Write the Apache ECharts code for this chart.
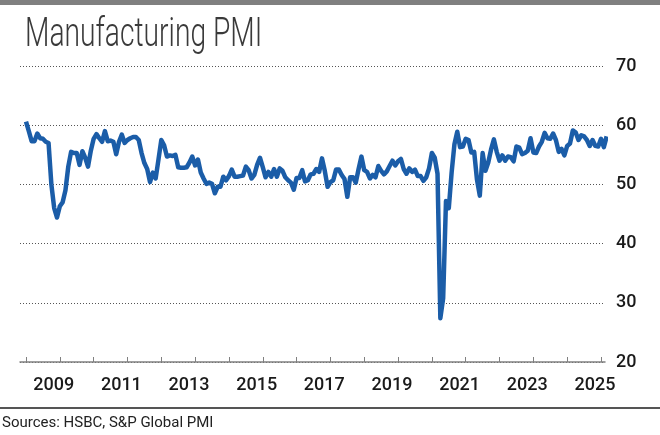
<html>
<head>
<meta charset="utf-8">
<script src="https://cdn.jsdelivr.net/npm/echarts@6/dist/echarts.min.js"></script>
<style>
  body { margin: 0; background: #fff; }
  #chart { width: 660px; height: 435px; }
</style>
</head>
<body>
<div id="chart"></div>
<script>
// monthly PMI, Jan 2008 .. Mar 2025
var firstYear = 2008;
var pmi2008 = [60.6, 59.0, 57.3, 57.3, 58.6, 57.8, 57.7, 57.2, 57.0, 50.0, 46.0, 44.4];
var pmi2009 = [46.3, 47.0, 49.0, 53.0, 55.5, 55.3, 55.3, 53.3, 55.6, 54.5, 53.0, 55.7];
var pmi2010 = [57.7, 58.5, 57.8, 57.2, 59.0, 57.3, 57.4, 57.2, 55.1, 57.2, 58.4, 57.0];
var pmi2011 = [57.5, 57.8, 58.0, 58.0, 57.5, 55.3, 53.6, 52.6, 50.4, 52.0, 51.0, 54.2];
var pmi2012 = [57.5, 56.6, 54.7, 54.9, 54.8, 55.0, 52.9, 52.8, 52.8, 52.9, 53.7, 54.7];
var pmi2013 = [53.2, 54.2, 52.0, 51.0, 50.1, 50.3, 50.1, 48.5, 49.6, 49.6, 51.3, 50.7];
var pmi2014 = [51.4, 52.5, 51.3, 51.3, 51.4, 51.5, 53.0, 52.4, 51.0, 51.6, 53.3, 54.5];
var pmi2015 = [52.9, 51.2, 52.1, 51.3, 52.6, 51.3, 52.7, 52.3, 51.2, 50.7, 50.3, 49.1];
var pmi2016 = [51.1, 51.1, 52.4, 50.5, 50.7, 51.7, 51.8, 52.6, 52.1, 54.4, 52.3, 49.6];
var pmi2017 = [50.4, 50.7, 52.5, 52.5, 51.6, 50.9, 47.9, 51.2, 51.2, 50.3, 52.6, 54.7];
var pmi2018 = [52.4, 52.1, 51.0, 51.6, 51.2, 53.1, 52.3, 51.7, 52.2, 53.1, 54.0, 53.2];
var pmi2019 = [53.9, 54.3, 52.6, 51.8, 52.7, 52.1, 52.5, 51.4, 51.4, 50.6, 51.2, 52.7];
var pmi2020 = [55.3, 54.5, 51.8, 27.4, 30.8, 47.2, 46.0, 52.0, 56.8, 58.9, 56.3, 56.4];
var pmi2021 = [57.7, 57.5, 55.4, 55.5, 50.8, 48.1, 55.3, 52.3, 53.7, 55.9, 57.6, 55.5];
var pmi2022 = [54.0, 54.9, 54.0, 54.7, 54.6, 53.9, 56.4, 56.2, 55.1, 55.3, 55.7, 57.8];
var pmi2023 = [55.4, 55.3, 56.4, 57.2, 58.7, 57.8, 57.7, 58.6, 57.5, 55.5, 56.0, 54.9];
var pmi2024 = [56.5, 56.9, 59.1, 58.8, 57.5, 58.3, 58.1, 57.5, 56.5, 57.5, 56.5, 56.4];
var pmi2025 = [57.7, 56.3, 58.1];

var tickYears = [2008, 2009, 2010, 2011, 2012, 2013, 2014, 2015, 2016, 2017, 2018, 2019, 2020, 2021, 2022, 2023, 2024, 2025];
var labelYears = [2009, 2011, 2013, 2015, 2017, 2019, 2021, 2023, 2025];
var yMin = 20, yMax = 70, yStep = 10;

var pmi = [].concat(pmi2008, pmi2009, pmi2010, pmi2011, pmi2012, pmi2013, pmi2014, pmi2015,
  pmi2016, pmi2017, pmi2018, pmi2019, pmi2020, pmi2021, pmi2022, pmi2023, pmi2024, pmi2025);
var points = pmi.map(function (v, i) { return [firstYear + i / 12, v]; });

var chart = echarts.init(document.getElementById('chart'), null, { renderer: 'canvas' });
var font = 'Roboto, "Liberation Sans", sans-serif';

chart.setOption({
  animation: false,
  backgroundColor: '#fff',
  grid: { left: 20, right: 55, top: 66, bottom: 73 },
  xAxis: {
    type: 'value',
    min: 2007.8226,
    max: 2025.118,
    axisLine: { lineStyle: { color: '#808080', width: 1.5 } },
    axisTick: {
      inside: true, length: 5,
      customValues: tickYears,
      lineStyle: { color: '#808080', width: 1 }
    },
    axisLabel: {
      customValues: labelYears.map(function (y) { return y - 0.18; }),
      formatter: function (v) { return String(Math.round(v)); },
      color: '#1a1a1a', fontFamily: font, fontWeight: 500, fontSize: 18, margin: 14
    },
    splitLine: { show: false }
  },
  yAxis: {
    type: 'value',
    position: 'right',
    min: yMin, max: yMax, interval: yStep,
    axisLine: { show: false },
    axisTick: { show: false },
    axisLabel: { color: '#1a1a1a', fontFamily: font, fontWeight: 500, fontSize: 18, margin: 11 },
    splitLine: { lineStyle: { color: '#555', width: 1, type: [1, 2] } }
  },
  series: [{
    type: 'line',
    data: points,
    showSymbol: false,
    lineStyle: { color: '#1b5da8', width: 4.5, join: 'round' }
  }],
  graphic: [
    { type: 'rect', left: 0, top: 0, shape: { width: 660, height: 5 }, style: { fill: '#808080' } },
    { type: 'text', left: 25, top: 16,
      style: { text: 'Manufacturing PMI', fill: '#3a3a3a', font: '300 40px Roboto, sans-serif' },
      scaleX: 0.705 },
    { type: 'rect', left: 0, top: 407, shape: { width: 660, height: 2 }, style: { fill: '#555' } },
    { type: 'text', left: 2, top: 416,
      style: { text: 'Sources: HSBC, S&P Global PMI', fill: '#222', font: '15px Roboto, sans-serif' } }
  ]
});
</script>
</body>
</html>
